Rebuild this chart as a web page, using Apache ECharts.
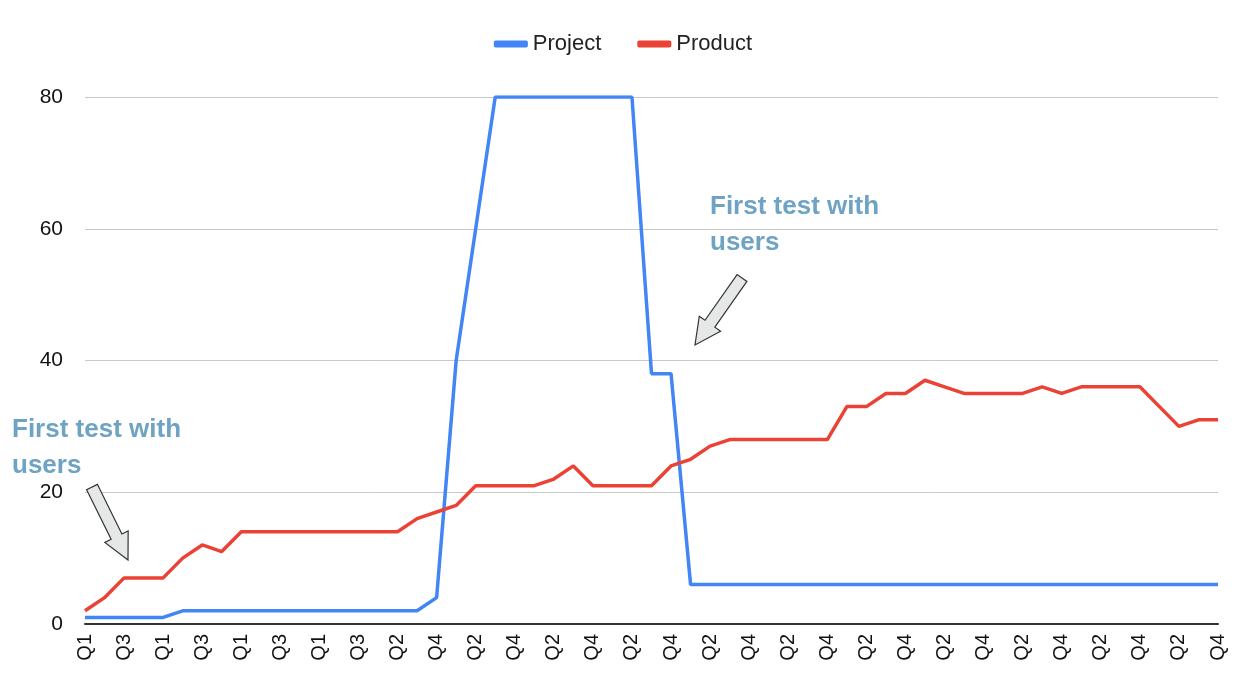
<!DOCTYPE html>
<html><head><meta charset="utf-8">
<script src="https://cdn.jsdelivr.net/npm/echarts@6/dist/echarts.min.js"></script>
<style>html,body{margin:0;padding:0;background:#fff}#c{width:1246px;height:698px}</style>
</head><body><div id="c"></div>
<script>
var quarters = ['Q1','Q2','Q3','Q4','Q1','Q2','Q3','Q4','Q1','Q2','Q3','Q4','Q1','Q2','Q3','Q4',
  'Q2','Q3','Q4','Q1','Q2','Q3','Q4','Q1','Q2','Q3','Q4','Q1','Q2','Q3','Q4','Q1','Q2','Q3','Q4','Q1',
  'Q2','Q3','Q4','Q1','Q2','Q3','Q4','Q1','Q2','Q3','Q4','Q1','Q2','Q3','Q4','Q1','Q2','Q3','Q4','Q1',
  'Q2','Q3','Q4'];
var project = [1,1,1,1,1,2,2,2,2,2,2,2,2,2,2,2,2,2,4,40,60,80,80,80,80,80,80,80,80,38,38,
  6,6,6,6,6,6,6,6,6,6,6,6,6,6,6,6,6,6,6,6,6,6,6,6,6,6,6,6];
var product = [2,4,7,7,7,10,12,11,14,14,14,14,14,14,14,14,14,16,17,18,21,21,21,21,22,24,21,21,21,21,24,
  25,27,28,28,28,28,28,28,33,33,35,35,37,36,35,35,35,35,36,35,36,36,36,36,33,30,31,31];

var chart = echarts.init(document.getElementById('c'));

function arrow(x1, y1, x2, y2) {
  var dx = x2 - x1, dy = y2 - y1, len = Math.sqrt(dx*dx + dy*dy);
  var ux = dx/len, uy = dy/len, nx = -uy, ny = ux;
  var hl = 26, hw = 13, sw = 6;
  var bx = x2 - ux*hl, by = y2 - uy*hl;
  return {
    type: 'polygon', z: 100,
    shape: {points: [
      [x1 + nx*sw, y1 + ny*sw], [bx + nx*sw, by + ny*sw], [bx + nx*hw, by + ny*hw], [x2, y2],
      [bx - nx*hw, by - ny*hw], [bx - nx*sw, by - ny*sw], [x1 - nx*sw, y1 - ny*sw]]},
    style: {fill: '#e6e8e8', stroke: '#333', lineWidth: 1.2}
  };
}

var noteStyle = {fill: '#6fa3c4', font: 'bold 26px "Liberation Sans", Arial, sans-serif', lineHeight: 36};

chart.setOption({
  animation: false,
  textStyle: {fontFamily: '"Liberation Sans", Arial, sans-serif'},
  legend: {
    top: 28, left: 'center', itemWidth: 34, itemHeight: 7, itemGap: 36,
    icon: 'roundRect',
    textStyle: {fontSize: 22, color: '#222'},
    data: ['Project', 'Product']
  },
  grid: {left: 85, right: 28, top: 97, bottom: 74, containLabel: false},
  xAxis: {
    type: 'category', data: quarters, boundaryGap: false,
    axisLine: {lineStyle: {color: '#333', width: 2}},
    axisTick: {show: false},
    axisLabel: {interval: 1, rotate: 90, fontSize: 20, color: '#111', margin: 10}
  },
  yAxis: {
    type: 'value', min: 0, max: 80, interval: 20,
    axisLabel: {fontSize: 21, color: '#111', margin: 22},
    splitLine: {lineStyle: {color: '#c8c8c8', width: 1}}
  },
  series: [
    {name: 'Project', type: 'line', data: project, showSymbol: false,
     lineStyle: {color: '#4285f4', width: 3.5}, itemStyle: {color: '#4285f4'}},
    {name: 'Product', type: 'line', data: product, showSymbol: false,
     lineStyle: {color: '#ea4335', width: 3.5}, itemStyle: {color: '#ea4335'}}
  ],
  graphic: [
    {type: 'text', left: 12, top: 412, z: 100, style: Object.assign({text: 'First test with\nusers'}, noteStyle)},
    {type: 'text', left: 710, top: 189, z: 100, style: Object.assign({text: 'First test with\nusers'}, noteStyle)},
    arrow(92, 487, 128, 560),
    arrow(742, 278, 695, 345)
  ]
});
</script></body></html>
